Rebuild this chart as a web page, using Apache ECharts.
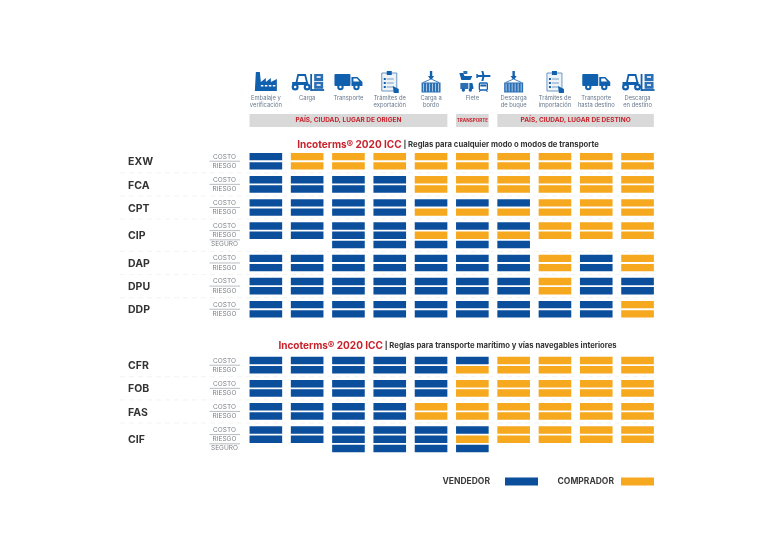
<!DOCTYPE html>
<html><head><meta charset="utf-8">
<style>html,body{margin:0;padding:0;background:#fff}#c{width:768px;height:543px}</style>
<script src="https://cdn.jsdelivr.net/npm/echarts@6/dist/echarts.min.js"></script>
</head><body><div id="c"></div>
<script>
const stages = ['Embalaje y\nverificación','Carga','Transporte','Trámites de\nexportación','Carga a\nbordo','Flete','Descarga\nde buque','Trámites de\nimportación','Transporte\nhasta destino','Descarga\nen destino'];
const iconKinds = ['factory','forklift','truck','clipboard','crane','freight','crane','clipboard','truck','forklift'];
const bands = [[0,4,'PAÍS, CIUDAD, LUGAR DE ORIGEN'],[5,5,'TRANSPORTE'],[6,9,'PAÍS, CIUDAD, LUGAR DE DESTINO']];
const rowNames = ['COSTO','RIESGO','SEGURO'];
// 1 = vendedor, 0 = comprador, null = no aplica
const EXW = [[1,0,0,0,0,0,0,0,0,0],[1,0,0,0,0,0,0,0,0,0]];
const FCA = [[1,1,1,1,0,0,0,0,0,0],[1,1,1,1,0,0,0,0,0,0]];
const CPT = [[1,1,1,1,1,1,1,0,0,0],[1,1,1,1,0,0,0,0,0,0]];
const CIP = [[1,1,1,1,1,1,1,0,0,0],[1,1,1,1,0,0,0,0,0,0],[null,null,1,1,1,1,1,null,null,null]];
const DAP = [[1,1,1,1,1,1,1,0,1,0],[1,1,1,1,1,1,1,0,1,0]];
const DPU = [[1,1,1,1,1,1,1,0,1,1],[1,1,1,1,1,1,1,0,1,1]];
const DDP = [[1,1,1,1,1,1,1,1,1,0],[1,1,1,1,1,1,1,1,1,0]];
const CFR = [[1,1,1,1,1,1,0,0,0,0],[1,1,1,1,1,0,0,0,0,0]];
const FOB = [[1,1,1,1,1,0,0,0,0,0],[1,1,1,1,1,0,0,0,0,0]];
const FAS = [[1,1,1,1,0,0,0,0,0,0],[1,1,1,1,0,0,0,0,0,0]];
const CIF = [[1,1,1,1,1,1,0,0,0,0],[1,1,1,1,1,0,0,0,0,0],[null,null,1,1,1,1,null,null,null,null]];
const section1 = [['EXW',EXW],['FCA',FCA],['CPT',CPT],['CIP',CIP],['DAP',DAP],['DPU',DPU],['DDP',DDP]];
const section2 = [['CFR',CFR],['FOB',FOB],['FAS',FAS],['CIF',CIF]];
const titleAny = 'Reglas para cualquier modo o modos de transporte';
const titleSea = 'Reglas para transporte marítimo y vías navegables interiores';
const BLUE='#0b4f9c', ORANGE='#f6a81e', ICON='#1160ae', FONT='Inter, "Open Sans", sans-serif';

// row layout in row units
const GROUP_GAP=0.5, SECTION_GAP=4.05;
const seller=[], buyer=[], termItems=[], rowItems=[], sepItems=[];
let pos=0;
[section1,section2].forEach((sec,s)=>{
  if(s) pos+=SECTION_GAP-GROUP_GAP;
  sec.forEach(([name,rows],g)=>{
    termItems.push([0,pos+rows.length/2,name]);
    rows.forEach((vals,r)=>{
      rowItems.push([0,pos+0.5,rowNames[r],r<rows.length-1?1:0]);
      vals.forEach((v,c)=>{ if(v===1) seller.push([c,pos+0.5]); else if(v===0) buyer.push([c,pos+0.5]); });
      pos+=1;
    });
    if(g<sec.length-1) sepItems.push([0,pos+GROUP_GAP/2]);
    pos+=GROUP_GAP;
  });
});
const yEnd=pos-GROUP_GAP;

function barRender(params,api){
  const c=api.coord([api.value(0),api.value(1)]);
  const w=api.size([1,0])[0]*0.79, h=api.size([0,1])[1]*0.81;
  return {type:'rect',shape:{x:c[0]-w/2,y:c[1]-h/2,width:w,height:h},style:{fill:api.visual('color')}};
}
const bandSpan=0.79;
function rect(x,y,w,h,fill,r){return {type:'rect',shape:{x,y,width:w,height:h,r:r||0},style:{fill}};}
function circ(x,y,r,fill){return {type:'circle',shape:{cx:x,cy:y,r},style:{fill}};}
function poly(p,fill){return {type:'polygon',shape:{points:p},style:{fill}};}
function ln(x1,y1,x2,y2,stroke,lw){return {type:'line',shape:{x1,y1,x2,y2},style:{stroke,lineWidth:lw||1}};}
function truckKids(x,y,s){return [
  rect(x-14*s,y+3*s,16*s,12*s,ICON,1),
  poly([[x+3*s,y+6*s],[x+9*s,y+6*s],[x+14*s,y+11*s],[x+14*s,y+15*s],[x+3*s,y+15*s]],ICON),
  poly([[x+5*s,y+7.5*s],[x+8.5*s,y+7.5*s],[x+11*s,y+10.5*s],[x+5*s,y+10.5*s]],'#fff'),
  circ(x-8*s,y+16*s,3.2*s,ICON),circ(x-8*s,y+16*s,1.2*s,'#fff'),
  circ(x+8*s,y+16*s,3.2*s,ICON),circ(x+8*s,y+16*s,1.2*s,'#fff')];}
function craneKids(x,y){const k=[ln(x,y,x,y+6,ICON,2.4),poly([[x-3,y+5],[x+3,y+5],[x+1,y+8],[x-1,y+8]],ICON),ln(x,y+8,x-8,y+11.5,ICON,.8),ln(x,y+8,x+8,y+11.5,ICON,.8),rect(x-9.5,y+11.5,19,10,'#2a70b5')];
  for(let i=-7.5;i<=7.5;i+=3)k.push(ln(x+i,y+12.5,x+i,y+20.5,'#cfe0f0',.8));return k;}
const iconDraw={
  factory:(x,y)=>[poly([[x-11,y+20],[x-10,y+1],[x-6,y+1],[x-5,y+11],[x,y+7],[x,y+11],[x+5,y+7],[x+5,y+11],[x+11,y+8],[x+11,y+20]],ICON),rect(x-5,y+14,2.5,1.5,'#fff'),rect(x-1,y+14,2.5,1.5,'#fff'),rect(x+3,y+14,2.5,1.5,'#fff'),rect(x+7,y+14,2.5,1.5,'#fff')],
  forklift:(x,y)=>[
    circ(x-12,y+16,3.5,ICON),circ(x-12,y+16,1.3,'#fff'),circ(x+0,y+16,3.5,ICON),circ(x+0,y+16,1.3,'#fff'),
    {type:'polyline',shape:{points:[[x-11,y+13],[x-9,y+4],[x-2,y+4],[x+0,y+12]]},style:{fill:'none',stroke:ICON,lineWidth:1.8}},
    rect(x-15,y+11,16,3,ICON),ln(x+4,y+3,x+4,y+20,ICON,1.8),ln(x+4,y+19,x+17,y+19,ICON,1.8),
    rect(x+7,y+3,9,7,'#2c6fb4'),rect(x+7,y+10.8,9,7,'#2c6fb4'),rect(x+9.5,y+5,4,2,'#cfe0f0'),rect(x+9.5,y+13,4,2,'#cfe0f0')],
  truck:(x,y)=>truckKids(x,y,1),
  clipboard:(x,y)=>{const k=[{type:'rect',shape:{x:x-8,y:y+2,width:15,height:18},style:{fill:'#eef3f8',stroke:'#5c8cbc',lineWidth:.9}},rect(x-3,y,5,4,ICON)];
    for(const d of [7,11,15]){k.push(rect(x-6,y+d,2,2,ICON),ln(x-3,y+d+1,x+4,y+d+1,'#6d93ba',.9));}
    k.push(poly([[x+3,y+15],[x+9,y+18],[x+9,y+22],[x+4,y+22]],ICON));return k;},
  crane:(x,y)=>craneKids(x,y),
  freight:(x,y)=>[
    poly([[x-13,y+2],[x-9,y+2],[x-8,y+5],[x,y+5],[x-2,y+9],[x-11,y+9]],ICON),rect(x-9,y,4,3,'#2c6fb4'),
    poly([[x+11,y],[x+12,y+4],[x+18,y+4],[x+18,y+6],[x+12,y+6],[x+11,y+10],[x+9,y+10],[x+10,y+6],[x+6,y+6],[x+5,y+7],[x+4,y+7],[x+4,y+3],[x+5,y+3],[x+6,y+4],[x+10,y+4],[x+9,y]],ICON),
    rect(x-12,y+12,8,6,'#2c6fb4'),poly([[x-3,y+12],[x,y+12],[x+1,y+16],[x+1,y+18],[x-3,y+18]],ICON),circ(x-9,y+19,1.7,ICON),circ(x-2,y+19,1.7,ICON),
    {type:'rect',shape:{x:x+7,y:y+12,width:8,height:7,r:1},style:{fill:'#fff',stroke:ICON,lineWidth:1.3}},rect(x+8,y+13.5,6,2,ICON),ln(x+8,y+19,x+7,y+21,ICON,1),ln(x+14,y+19,x+15,y+21,ICON,1)]
};
const TOP=152;
const legendText={fontFamily:FONT,fontSize:8.5,fontWeight:'bold',color:'#3a3a3a'};
const option={
  animation:false,
  backgroundColor:'#fff',
  title:[
    {text:'{a|Incoterms® 2020 ICC}{b| | '+titleAny+'}',left:443,top:135,textAlign:'center',textStyle:{rich:{a:{fontFamily:FONT,fontSize:10,fontWeight:'bold',color:'#c8222b'},b:{fontFamily:FONT,fontSize:7.7,fontWeight:'bold',color:'#333'}}}},
    {text:'{a|Incoterms® 2020 ICC}{b| | '+titleSea+'}',left:442.5,top:336,textAlign:'center',textStyle:{rich:{a:{fontFamily:FONT,fontSize:10,fontWeight:'bold',color:'#c8222b'},b:{fontFamily:FONT,fontSize:7.7,fontWeight:'bold',color:'#333'}}}}
  ],
  legend:[
    {data:[{name:'VENDEDOR',icon:'rect',itemStyle:{color:BLUE}}],right:230,top:477,align:'right',itemWidth:33,itemHeight:8,selectedMode:false,padding:0,textStyle:{...legendText,padding:[0,10,0,0]}},
    {data:[{name:'COMPRADOR',icon:'rect',itemStyle:{color:ORANGE}}],right:114,top:477,align:'right',itemWidth:33,itemHeight:8,selectedMode:false,padding:0,textStyle:{...legendText,padding:[0,2,0,0]}}
  ],
  grid:{left:245.2,width:413,top:TOP,height:yEnd*9.25},
  xAxis:{type:'category',position:'top',data:stages,axisLine:{show:false},axisTick:{show:false},splitLine:{show:false},
    axisLabel:{interval:0,margin:57,verticalAlign:'top',fontFamily:FONT,fontSize:5.8,lineHeight:7,color:'#66788c'}},
  yAxis:{type:'value',inverse:true,min:0,max:yEnd,show:false},
  series:[
    {name:'sep',type:'custom',silent:true,data:sepItems,clip:false,renderItem:(p,api)=>{const y=api.coord([0,api.value(1)])[1];return {type:'line',shape:{x1:120,y1:y,x2:654,y2:y},style:{stroke:'#eeeeee',lineWidth:.7,lineDash:[5,4]}};}},
    {name:'VENDEDOR',type:'custom',data:seller,renderItem:barRender,itemStyle:{color:BLUE},clip:false},
    {name:'COMPRADOR',type:'custom',data:buyer,renderItem:barRender,itemStyle:{color:ORANGE},clip:false},
    {name:'terms',type:'custom',silent:true,clip:false,data:termItems,renderItem:(p,api)=>{const y=api.coord([0,api.value(1)])[1];return {type:'text',style:{x:128,y:y+1,text:termItems[p.dataIndex][2],font:'bold 10.5px '+FONT,fill:'#333',textAlign:'left',textVerticalAlign:'middle'}};}},
    {name:'rows',type:'custom',silent:true,clip:false,data:rowItems,renderItem:(p,api)=>{const y=api.coord([0,api.value(1)])[1];const it=rowItems[p.dataIndex];const kids=[{type:'text',style:{x:224.5,y:y,text:it[2],font:'6.5px '+FONT,fill:'#7a7f85',textAlign:'center',textVerticalAlign:'middle'}}];
      if(it[3]) kids.push({type:'line',shape:{x1:209.5,y1:y+4.6,x2:240,y2:y+4.6},style:{stroke:'#8a8f95',lineWidth:.6}});return {type:'group',children:kids};}},
    {name:'icons',type:'custom',silent:true,clip:false,data:stages.map((s,i)=>[i,0]),renderItem:(p,api)=>{const c=api.coord([api.value(0),0]);return {type:'group',children:iconDraw[iconKinds[p.dataIndex]](c[0],TOP-81)};}},
    {name:'bands',type:'custom',silent:true,clip:false,data:bands.map(b=>[b[0],0,b[1]]),encode:{x:0,y:1},renderItem:(p,api)=>{
      const b=bands[p.dataIndex],w=api.size([1,0])[0]*bandSpan;const a=api.coord([b[0],0])[0]-w/2,e=api.coord([b[1],0])[0]+w/2;
      return {type:'group',children:[{type:'rect',shape:{x:a,y:TOP-38,width:e-a,height:13},style:{fill:'#d9d9d9'}},
        {type:'text',style:{x:(a+e)/2,y:TOP-31.5,text:b[2],font:'bold '+(b[0]===b[1]?'4.6':'6.5')+'px '+FONT,fill:'#c8222b',textAlign:'center',textVerticalAlign:'middle'}}]};}}
  ]
};
echarts.init(document.getElementById('c'),null,{renderer:'canvas'}).setOption(option);
</script></body></html>
